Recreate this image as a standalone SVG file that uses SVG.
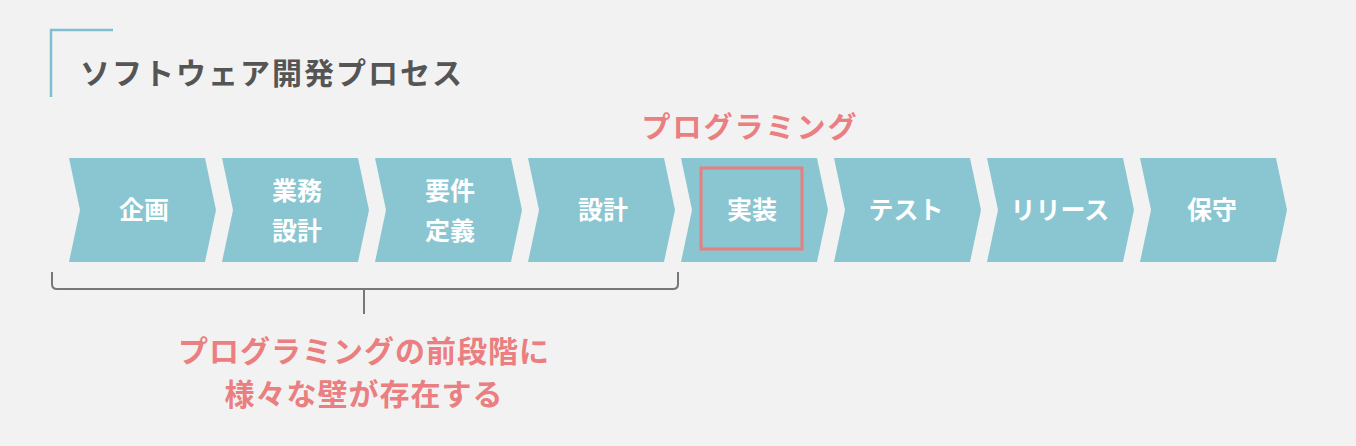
<svg xmlns="http://www.w3.org/2000/svg" width="1356" height="446" viewBox="0 0 1356 446">
<style>
text{font-family:"Noto Sans CJK JP","Noto Sans",sans-serif;font-weight:bold}
.ch{fill:#8ac6d1}
.lb{fill:#fff;font-size:25px;text-anchor:middle}
.red{fill:#ea7e80;text-anchor:middle}
</style>
<defs><path id="chev" d="M0,0 H136 L147,52 L136,104 H0 L11,52 Z" class="ch"/></defs>
<rect width="1356" height="446" fill="#f2f2f2"/>
<path d="M51,97 V30 H113" fill="none" stroke="#7fbfcf" stroke-width="2.5"/>
<text x="80" y="84" font-size="30" fill="#555" letter-spacing="2">ソフトウェア開発プロセス</text>
<text class="red" x="750" y="138" font-size="29" letter-spacing="2">プログラミング</text>
<g id="n1"><use href="#chev" x="69" y="158"/><text class="lb" x="144" y="219">企画</text></g>
<g id="n2"><use href="#chev" x="222" y="158"/><text class="lb" x="297" y="200">業務</text><text class="lb" x="297" y="240">設計</text></g>
<g id="n3"><use href="#chev" x="375" y="158"/><text class="lb" x="450" y="200">要件</text><text class="lb" x="450" y="240">定義</text></g>
<g id="n4"><use href="#chev" x="528" y="158"/><text class="lb" x="603" y="219">設計</text></g>
<g id="n5"><use href="#chev" x="681" y="158"/><rect x="701" y="168" width="101" height="81" fill="none" stroke="#e57f80" stroke-width="3"/><text class="lb" x="752" y="219">実装</text></g>
<g id="n6"><use href="#chev" x="834" y="158"/><text class="lb" x="906" y="219">テスト</text></g>
<g id="n7"><use href="#chev" x="987" y="158"/><text class="lb" x="1060" y="219">リリース</text></g>
<g id="n8"><use href="#chev" x="1140" y="158"/><text class="lb" x="1212" y="219">保守</text></g>
<g id="connectors"><path d="M52,272 V284 Q52,289 57,289 H673 Q678,289 678,284 V272 M364,289 V314" fill="none" stroke="#777" stroke-width="2"/></g>
<text class="red" x="364" y="362" font-size="30" letter-spacing="1">プログラミングの前段階に</text>
<text class="red" x="364" y="405" font-size="30" letter-spacing="1">様々な壁が存在する</text>
</svg>
